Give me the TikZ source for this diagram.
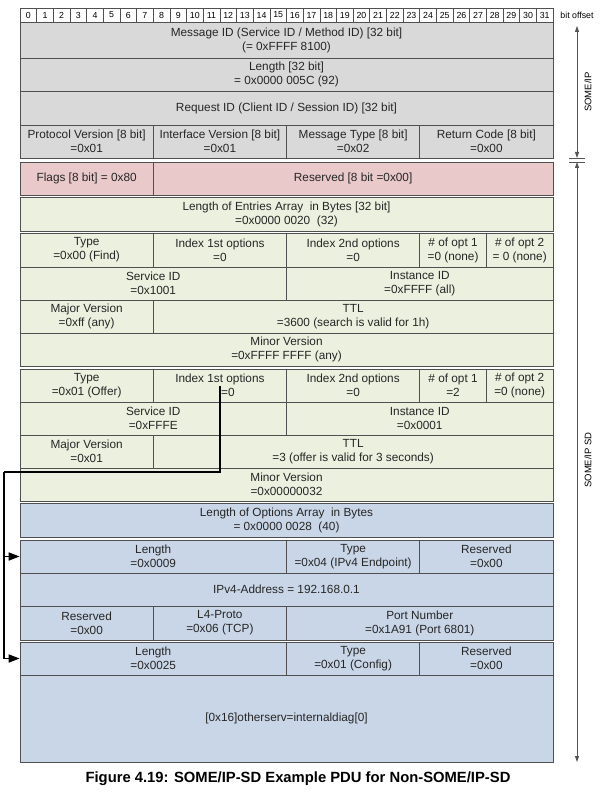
\documentclass[tikz,border=0pt]{standalone}
\usepackage{fontspec}
\setmainfont{Liberation Sans}
\usetikzlibrary{arrows.meta}
\definecolor{gfill}{HTML}{D9D9D9}
\definecolor{pfill}{HTML}{E9C9CA}
\definecolor{efill}{HTML}{EBF0DF}
\definecolor{bfill}{HTML}{C9D6E7}
\definecolor{bordercol}{HTML}{505050}
\definecolor{dimcol}{HTML}{555555}
\tikzset{
  cellbox/.style={draw=bordercol, line width=0.7pt, inner sep=0pt, align=center,
    font=\fontsize{11.8}{14}\selectfont, text=black!85},
  hdrbox/.style={draw=bordercol, line width=0.6pt, fill=white, inner sep=0pt,
    font=\fontsize{8.8}{10}\selectfont, minimum width=16.65625pt, minimum height=14pt},
  conn/.style={line width=1.6pt, black, -{Triangle[length=11pt,width=8pt]}},
  dimline/.style={dimcol, line width=0.8pt},
  dimtip/.style={dimcol, line width=0.8pt, {Triangle[length=6pt,width=4pt]}-{Triangle[length=6pt,width=4pt]}},
  sidelabel/.style={font=\fontsize{9.5}{10}\selectfont, rotate=90},
}
\newcommand\bitcell[7]{%
  \node[cellbox, fill=#6, minimum width={((#3)-(#2))*16.65625pt},
        minimum height={((#5)-(#4))*1pt}] (#1)
        at ({20+((#2)+(#3))*8.328125},{((#4)+(#5))/2}) {#7};}
\begin{document}
\begin{tikzpicture}[x=1pt,y=-1pt]
\useasboundingbox (0,0) rectangle (600,794);
% header
\foreach \i in {0,...,31}{
  \node[hdrbox] (h\i) at ({20+(\i+0.5)*16.65625},15) {\i};
}
\node[font=\fontsize{8.8}{10}\selectfont] (bitoff) at (577,15) {bit offset};
% SOME/IP header
\bitcell{mid}{0}{32}{22}{58}{gfill}{Message ID (Service ID / Method ID) [32 bit]\\(= 0xFFFF 8100)}
\bitcell{len}{0}{32}{58}{91}{gfill}{Length [32 bit]\\= 0x0000 005C (92)}
\bitcell{rid}{0}{32}{91}{125}{gfill}{Request ID (Client ID / Session ID) [32 bit]}
\bitcell{pv}{0}{8}{125}{158}{gfill}{Protocol Version [8 bit]\\=0x01}
\bitcell{iv}{8}{16}{125}{158}{gfill}{Interface Version [8 bit]\\=0x01}
\bitcell{mt}{16}{24}{125}{158}{gfill}{Message Type [8 bit]\\=0x02}
\bitcell{rc}{24}{32}{125}{158}{gfill}{Return Code [8 bit]\\=0x00}
% flags
\bitcell{flags}{0}{8}{162}{195}{pfill}{Flags [8 bit] = 0x80}
\bitcell{res}{8}{32}{162}{195}{pfill}{Reserved [8 bit =0x00]}
% entries length
\bitcell{lea}{0}{32}{197}{231}{efill}{Length of Entries Array\ \ in Bytes [32 bit]\\=0x0000 0020\ \ (32)}
% entry 1
\bitcell{aty}{0}{8}{233}{267}{efill}{Type\\=0x00 (Find)}
\bitcell{aio}{8}{16}{233}{267}{efill}{Index 1st options\\=0}
\bitcell{ait}{16}{24}{233}{267}{efill}{Index 2nd options\\=0}
\bitcell{ano}{24}{28}{233}{267}{efill}{\# of opt 1\\=0 (none)}
\bitcell{ant}{28}{32}{233}{267}{efill}{\# of opt 2\\= 0 (none)}
\bitcell{asi}{0}{16}{267}{300}{efill}{Service ID\\=0x1001}
\bitcell{ain}{16}{32}{267}{300}{efill}{Instance ID\\=0xFFFF (all)}
\bitcell{amj}{0}{8}{300}{333}{efill}{Major Version\\=0xff (any)}
\bitcell{attl}{8}{32}{300}{333}{efill}{TTL\\=3600 (search is valid for 1h)}
\bitcell{amn}{0}{32}{333}{366}{efill}{Minor Version\\=0xFFFF FFFF (any)}
% entry 2
\bitcell{bty}{0}{8}{369}{402}{efill}{Type\\=0x01 (Offer)}
\bitcell{bio}{8}{16}{369}{402}{efill}{Index 1st options\\\hspace*{16pt}=0}
\bitcell{bit}{16}{24}{369}{402}{efill}{Index 2nd options\\=0}
\bitcell{bno}{24}{28}{369}{402}{efill}{\# of opt 1\\=2}
\bitcell{bnt}{28}{32}{369}{402}{efill}{\# of opt 2\\=0 (none)}
\bitcell{bsi}{0}{16}{402}{435}{efill}{Service ID\\=0xFFFE}
\bitcell{bin}{16}{32}{402}{435}{efill}{Instance ID\\=0x0001}
\bitcell{bmj}{0}{8}{435}{468}{efill}{Major Version\\=0x01}
\bitcell{bttl}{8}{32}{435}{468}{efill}{TTL\\=3 (offer is valid for 3 seconds)}
\bitcell{bmn}{0}{32}{468}{501}{efill}{Minor Version\\=0x00000032}
% options length
\bitcell{loa}{0}{32}{503}{537}{bfill}{Length of Options Array\ \ in Bytes\\= 0x0000 0028\ \ (40)}
% option 1
\bitcell{olen}{0}{16}{540}{573}{bfill}{Length\\=0x0009}
\bitcell{otype}{16}{24}{540}{573}{bfill}{Type\\=0x04 (IPv4 Endpoint)}
\bitcell{ores}{24}{32}{540}{573}{bfill}{Reserved\\=0x00}
\bitcell{oip}{0}{32}{573}{606}{bfill}{IPv4-Address = 192.168.0.1}
\bitcell{ores2}{0}{8}{606}{640}{bfill}{Reserved\\=0x00}
\bitcell{oproto}{8}{16}{606}{640}{bfill}{L4-Proto\\=0x06 (TCP)}
\bitcell{oport}{16}{32}{606}{640}{bfill}{Port Number\\=0x1A91 (Port 6801)}
% option 2
\bitcell{plen}{0}{16}{642}{675}{bfill}{Length\\=0x0025}
\bitcell{ptype}{16}{24}{642}{675}{bfill}{Type\\=0x01 (Config)}
\bitcell{pres}{24}{32}{642}{675}{bfill}{Reserved\\=0x00}
\bitcell{pcfg}{0}{32}{675}{762}{bfill}{[0x16]otherserv=internaldiag[0]}
% connector
\coordinate (src) at (220,386);
\coordinate (jn) at (4,472);
\draw[line width=1.6pt, line join=miter] (src) |- (jn);
\draw[conn] (jn) |- (olen.west);
\draw[conn] (jn) |- (plen.west);
% side dimension lines
\coordinate (s1t) at (577,26);
\coordinate (s1b) at (577,158);
\coordinate (s2t) at (577,162);
\coordinate (s2b) at (577,762);
\draw[dimtip] (s1t) -- (s1b);
\draw[dimtip] (s2t) -- (s2b);
\draw[dimline] (569,158) -- (585,158);
\draw[dimline] (569,162) -- (585,162);
\node[sidelabel] (lsip) at (588,92) {SOME/IP};
\node[sidelabel] (lsd) at (588,460) {SOME/IP SD};
% caption
\node[font=\bfseries\fontsize{14.8}{17}\selectfont] (cap) at (298,779) {Figure 4.19: SOME/IP-SD Example PDU for Non-SOME/IP-SD};
\end{tikzpicture}
\end{document}
